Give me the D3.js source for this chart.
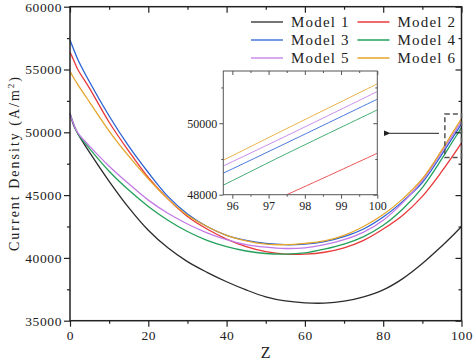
<!DOCTYPE html>
<html>
<head>
<meta charset="utf-8">
<script src="https://cdn.jsdelivr.net/npm/d3@7"></script>
<style>
  body { margin: 0; background: #fff; }
</style>
</head>
<body>
<div class="chart"></div>
<script>
var width = 474,
    height = 364

var zs = [0, 1, 2, 5, 10, 15, 20, 25, 30, 35, 40, 45, 50, 55, 60, 65, 70, 75, 80, 85, 90, 95, 97.5, 100]

var model1 = [51500, 50500, 49900, 48400, 46100, 44000, 42200, 40800, 39700, 38850, 38100, 37450, 36900, 36570, 36420, 36400, 36550, 36900, 37450, 38350, 39550, 40950, 41700, 42500]
var model2 = [56400, 55700, 55000, 53500, 50800, 48500, 46400, 44700, 43300, 42300, 41500, 40900, 40500, 40300, 40300, 40450, 40800, 41400, 42300, 43400, 44900, 46900, 48000, 49160]
var model3 = [57350, 56550, 55800, 54000, 51300, 48900, 46800, 44900, 43500, 42500, 41800, 41400, 41150, 41050, 41100, 41300, 41700, 42300, 43250, 44500, 46000, 48250, 49450, 50672]
var model4 = [51500, 50600, 49900, 48700, 46900, 45400, 44100, 43000, 42100, 41400, 40900, 40550, 40350, 40300, 40400, 40700, 41100, 41700, 42600, 43900, 45600, 47900, 49150, 50372]
var model5 = [51500, 50600, 49950, 48900, 47300, 45900, 44600, 43550, 42700, 42000, 41450, 41050, 40850, 40750, 40800, 41050, 41450, 42050, 43000, 44400, 46150, 48450, 49650, 50885]
var model6 = [54850, 54300, 53800, 52400, 50100, 48100, 46300, 44700, 43400, 42500, 41800, 41350, 41100, 41050, 41150, 41350, 41800, 42500, 43450, 44700, 46300, 48600, 49850, 51100]

var names = ["Model 1", "Model 2", "Model 3", "Model 4", "Model 5", "Model 6"]
var colors = ["#2b2b2b", "#e8383a", "#2a62d4", "#23a05c", "#c27ae6", "#e4a52a"]

var xTicks = [0, 20, 40, 60, 80, 100]
var xMinor = [10, 30, 50, 70, 90]
var yTicks = [35000, 40000, 45000, 50000, 55000, 60000]
var yMinor = [37500, 42500, 47500, 52500, 57500]

// zoomed window
var insetX = [95.75, 100]
var insetY = [48000, 51460]
var insetXTicks = [96, 97, 98, 99, 100]
var insetXMinor = [96.5, 97.5, 98.5, 99.5]
var insetYTicks = [48000, 50000]
var insetYMinor = [49000, 51000]

var series = [model1, model2, model3, model4, model5, model6].map(function(vals, i) {
  return {name: names[i], color: colors[i], values: vals.map(function(v, j) { return {z: zs[j], v: v}; })};
});

var svg = d3.select(".chart")
  .append("svg")
  .attr("width", width)
  .attr("height", height)

var x = d3.scaleLinear().domain([0, 100]).range([70, 461.5])
var y = d3.scaleLinear().domain([35000, 60000]).range([320.7, 6.7])

var line = d3.line()
  .curve(d3.curveCatmullRom.alpha(0.5))
  .x(function(d) { return x(d.z); })
  .y(function(d) { return y(d.v); })

svg.append("g")
  .selectAll("path")
  .data(series)
  .enter()
  .append("path")
  .attr("fill", "none")
  .attr("stroke", function(d) { return d.color; })
  .attr("stroke-width", 1.3)
  .attr("d", function(d) { return line(d.values); })

var fmt = d3.format("d")
var serif = "'Liberation Serif', 'Times New Roman', serif"

// axes: outward on left/bottom, inward on top/right
function styleAxis(g, fs) {
  g.attr("font-family", null)
  g.select(".domain").remove()
  g.selectAll(".tick line").attr("stroke", "#222").attr("stroke-width", 1.2)
  g.selectAll(".tick text")
    .style("font-family", serif)
    .style("font-size", fs + "px")
    .style("letter-spacing", "0.6px")
    .attr("fill", "#222")
}

svg.append("g")
  .attr("transform", "translate(0," + y(35000) + ")")
  .call(d3.axisBottom(x).tickValues(xTicks).tickSize(6).tickPadding(4).tickFormat(fmt))
  .call(styleAxis, 13.5)
svg.append("g")
  .attr("transform", "translate(0," + y(35000) + ")")
  .call(d3.axisBottom(x).tickValues(xMinor).tickSize(3).tickFormat(""))
  .call(styleAxis, 13.5)
svg.append("g")
  .attr("transform", "translate(0," + y(60000) + ")")
  .call(d3.axisTop(x).tickValues(xTicks).tickSize(-6).tickFormat(""))
  .call(styleAxis, 13.5)
svg.append("g")
  .attr("transform", "translate(0," + y(60000) + ")")
  .call(d3.axisTop(x).tickValues(xMinor).tickSize(-3).tickFormat(""))
  .call(styleAxis, 13.5)

svg.append("g")
  .attr("transform", "translate(" + x(0) + ",0)")
  .call(d3.axisLeft(y).tickValues(yTicks).tickSize(6).tickPadding(2).tickFormat(fmt))
  .call(styleAxis, 13.5)
svg.append("g")
  .attr("transform", "translate(" + x(0) + ",0)")
  .call(d3.axisLeft(y).tickValues(yMinor).tickSize(3).tickFormat(""))
  .call(styleAxis, 13.5)
svg.append("g")
  .attr("transform", "translate(" + x(100) + ",0)")
  .call(d3.axisRight(y).tickValues(yTicks).tickSize(-6).tickFormat(""))
  .call(styleAxis, 13.5)
svg.append("g")
  .attr("transform", "translate(" + x(100) + ",0)")
  .call(d3.axisRight(y).tickValues(yMinor).tickSize(-3).tickFormat(""))
  .call(styleAxis, 13.5)

svg.append("rect")
  .attr("x", x(0))
  .attr("y", y(60000))
  .attr("width", x(100) - x(0))
  .attr("height", y(35000) - y(60000))
  .attr("fill", "none")
  .attr("stroke", "#222")
  .attr("stroke-width", 1.5)

// axis titles
var ytitle = svg.append("text")
  .attr("transform", "translate(19,163) rotate(-90)")
  .attr("text-anchor", "middle")
  .style("font-family", serif)
  .style("font-size", "14px")
  .style("letter-spacing", "2px")
  .attr("fill", "#222")
ytitle.append("tspan").text("Current Density (A/m")
ytitle.append("tspan").attr("dy", -5).style("font-size", "9px").text("2")
ytitle.append("tspan").attr("dy", 5).text(")")

svg.append("text")
  .attr("x", x(50))
  .attr("y", 358)
  .attr("text-anchor", "middle")
  .style("font-family", serif)
  .style("font-size", "16px")
  .attr("fill", "#222")
  .text("Z")

// legend, two columns
var legend = svg.append("g")
  .selectAll("g")
  .data(series)
  .enter()
  .append("g")
  .attr("transform", function(d, i) {
    return "translate(" + (i % 2 == 0 ? 251 : 357.5) + "," + (22 + Math.floor(i / 2) * 18) + ")";
  })
legend.append("line")
  .attr("x1", 0).attr("x2", 32)
  .attr("stroke", function(d) { return d.color; })
  .attr("stroke-width", 1.3)
legend.append("text")
  .attr("x", 40)
  .attr("y", 5)
  .style("font-family", serif)
  .style("font-size", "15px")
  .style("letter-spacing", "1.2px")
  .attr("fill", "#222")
  .text(function(d) { return d.name; })

// dashed box marking the zoomed window
svg.append("rect")
  .attr("x", x(insetX[0]))
  .attr("y", y(insetY[1]))
  .attr("width", x(insetX[1]) - x(insetX[0]))
  .attr("height", y(insetY[0]) - y(insetY[1]))
  .attr("fill", "none")
  .attr("stroke", "#555")
  .attr("stroke-width", 1.5)
  .attr("stroke-dasharray", "5,3")

// arrow to the inset
svg.append("defs").append("marker")
  .attr("id", "arrowhead")
  .attr("viewBox", "0 0 10 10")
  .attr("refX", 1).attr("refY", 5)
  .attr("markerWidth", 7).attr("markerHeight", 7)
  .attr("orient", "auto")
  .append("path")
  .attr("d", "M10,1 L0,5 L10,9 Z")
  .attr("fill", "#222")
svg.append("line")
  .attr("x1", 439).attr("x2", 390)
  .attr("y1", 133.3).attr("y2", 133.3)
  .attr("stroke", "#222")
  .attr("stroke-width", 1)
  .attr("marker-end", "url(#arrowhead)")

// inset
var ix = d3.scaleLinear().domain(insetX).range([223.3, 377.3])
var iy = d3.scaleLinear().domain(insetY).range([194.7, 71])

svg.append("rect")
  .attr("x", ix.range()[0])
  .attr("y", iy.range()[1])
  .attr("width", ix.range()[1] - ix.range()[0])
  .attr("height", iy.range()[0] - iy.range()[1])
  .attr("fill", "#fff")

svg.select("defs").append("clipPath")
  .attr("id", "insetclip")
  .append("rect")
  .attr("x", ix.range()[0])
  .attr("y", iy.range()[1])
  .attr("width", ix.range()[1] - ix.range()[0])
  .attr("height", iy.range()[0] - iy.range()[1])

var iline = d3.line()
  .curve(d3.curveCatmullRom.alpha(0.5))
  .x(function(d) { return ix(d.z); })
  .y(function(d) { return iy(d.v); })

svg.append("g")
  .attr("clip-path", "url(#insetclip)")
  .selectAll("path")
  .data(series)
  .enter()
  .append("path")
  .attr("fill", "none")
  .attr("stroke", function(d) { return d.color; })
  .attr("stroke-width", 1)
  .attr("stroke-opacity", 0.85)
  .attr("d", function(d) { return iline(d.values); })

function styleInset(g, fs) {
  g.attr("font-family", null)
  g.select(".domain").remove()
  g.selectAll(".tick line").attr("stroke", "#555").attr("stroke-width", 1)
  g.selectAll(".tick text")
    .style("font-family", serif)
    .style("font-size", fs + "px")
    .attr("fill", "#222")
}

svg.append("g")
  .attr("transform", "translate(0," + iy.range()[0] + ")")
  .call(d3.axisBottom(ix).tickValues(insetXTicks).tickSize(4).tickPadding(3).tickFormat(fmt))
  .call(styleInset, 12)
svg.append("g")
  .attr("transform", "translate(0," + iy.range()[0] + ")")
  .call(d3.axisBottom(ix).tickValues(insetXMinor).tickSize(2).tickFormat(""))
  .call(styleInset, 12)
svg.append("g")
  .attr("transform", "translate(0," + iy.range()[1] + ")")
  .call(d3.axisTop(ix).tickValues(insetXTicks).tickSize(-4).tickFormat(""))
  .call(styleInset, 12)
svg.append("g")
  .attr("transform", "translate(0," + iy.range()[1] + ")")
  .call(d3.axisTop(ix).tickValues(insetXMinor).tickSize(-2).tickFormat(""))
  .call(styleInset, 12)
svg.append("g")
  .attr("transform", "translate(" + ix.range()[0] + ",0)")
  .call(d3.axisLeft(iy).tickValues(insetYTicks).tickSize(4).tickPadding(2).tickFormat(fmt))
  .call(styleInset, 12)
svg.append("g")
  .attr("transform", "translate(" + ix.range()[0] + ",0)")
  .call(d3.axisLeft(iy).tickValues(insetYMinor).tickSize(2).tickFormat(""))
  .call(styleInset, 12)
svg.append("g")
  .attr("transform", "translate(" + ix.range()[1] + ",0)")
  .call(d3.axisRight(iy).tickValues(insetYTicks).tickSize(-4).tickFormat(""))
  .call(styleInset, 12)
svg.append("g")
  .attr("transform", "translate(" + ix.range()[1] + ",0)")
  .call(d3.axisRight(iy).tickValues(insetYMinor).tickSize(-2).tickFormat(""))
  .call(styleInset, 12)

svg.append("rect")
  .attr("x", ix.range()[0])
  .attr("y", iy.range()[1])
  .attr("width", ix.range()[1] - ix.range()[0])
  .attr("height", iy.range()[0] - iy.range()[1])
  .attr("fill", "none")
  .attr("stroke", "#555")
  .attr("stroke-width", 1)
</script>
</body>
</html>
